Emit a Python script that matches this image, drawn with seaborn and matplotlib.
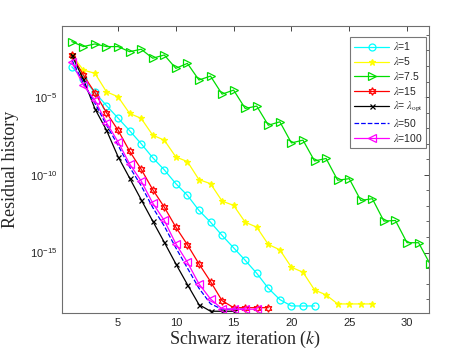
import numpy as np
import matplotlib
matplotlib.use('Agg')
import matplotlib.pyplot as plt
from matplotlib.ticker import FixedLocator, LogFormatterSciNotation, NullFormatter
import seaborn as sns

# residual history, stored as log10 exponents
lam1 = [-3.05, -3.85, -4.7, -5.55, -6.35, -7.16, -8.0, -8.9, -9.68, -10.57, -11.32,
        -12.29, -13.05, -13.9, -14.7, -15.5, -16.34, -17.3, -18.03, -18.44, -18.44, -18.44]
lam5 = [-2.3, -3.26, -3.47, -4.66, -4.98, -6.05, -6.37, -7.45, -7.77, -8.85, -9.15,
        -10.31, -10.57, -11.69, -11.97, -13.05, -13.37, -14.48, -14.83, -15.95, -16.27,
        -17.41, -17.73, -18.31, -18.31, -18.31, -18.31]
lam75 = [-1.43, -1.75, -1.58, -1.75, -1.75, -2.08, -1.92, -2.5, -2.29, -3.15, -2.83,
         -3.9, -3.65, -4.81, -4.55, -5.73, -5.58, -6.81, -6.59, -7.95, -7.77, -9.11,
         -8.95, -10.35, -10.25, -11.65, -11.54, -12.98, -12.94, -14.37, -14.37, -15.75]
lam15 = [-2.29, -3.58, -4.72, -6.0, -7.13, -8.48, -9.64, -10.95, -12.08, -13.37, -14.5,
         -15.73, -16.87, -18.1, -18.55, -18.55, -18.55, -18.55]
lam_opt = [-2.3, -3.85, -5.75, -7.13, -8.83, -10.21, -11.6, -12.98, -14.34, -15.73,
           -17.06, -18.35, -18.78, -18.78, -18.78]
lam50 = [-2.6, -4.1, -5.4, -6.8, -8.1, -9.5, -10.7, -12.1, -13.3, -14.7, -16.0, -17.3,
         -18.3, -18.65, -18.65, -18.65]
lam100 = [-2.75, -4.23, -5.2, -6.65, -7.88, -9.3, -10.4, -11.82, -12.94, -14.44, -15.63,
          -17.02, -17.99, -18.63, -18.65, -18.65, -18.65]

labels = [r'$\lambda$=1', r'$\lambda$=5', r'$\lambda$=7.5', r'$\lambda$=15',
          r'$\lambda$= $\lambda_{\rm opt}$', r'$\lambda$=50', r'$\lambda$=100']

sns.set_style('white')
plt.rcParams['font.family'] = ['Liberation Sans', 'DejaVu Sans']
plt.rcParams['mathtext.fontset'] = 'stix'

fig = plt.figure(figsize=(4.74, 3.55), dpi=100)
ax = fig.add_axes([0.131, 0.118, 0.774, 0.809])

series = [lam1, lam5, lam75, lam15, lam_opt, lam50, lam100]
styles = [
    dict(color='#00ffff', marker='o', ms=5, mfc='none'),
    dict(color='#ffff00', marker='*', ms=5, mfc='#ffff00'),
    dict(color='#00dd00', marker='>', ms=6.2, mfc='none'),
    dict(color='#ff0000', marker=(6, 1, 0), ms=5.5, mfc='none'),
    dict(color='#000000', marker='x', ms=3.6, mfc='none'),
    dict(color='#0000ff', marker=None, ls='--'),
    dict(color='#ff00ff', marker='<', ms=5.8, mfc='none'),
]
for vals, lab, st in zip(series, labels, styles):
    k = np.arange(1, len(vals) + 1)
    kw = dict(color=st['color'], lw=0.9, linestyle=st.get('ls', '-'))
    if st['marker'] is not None:
        kw.update(marker=st['marker'], markersize=st['ms'], markerfacecolor=st['mfc'],
                  markeredgecolor=st['color'], markeredgewidth=0.9)
    sns.lineplot(x=k, y=10.0 ** np.array(vals), ax=ax, label=lab, **kw)

ax.set_yscale('log')
ax.set_xlim(0.16, 31.9)
ax.set_ylim(10 ** -18.9, 10 ** -0.42)
ax.set_xticks([5, 10, 15, 20, 25, 30])
ax.yaxis.set_major_locator(FixedLocator([1e-15, 1e-10, 1e-5]))
ax.yaxis.set_major_formatter(LogFormatterSciNotation())
ax.yaxis.set_minor_locator(FixedLocator([10.0 ** e for e in range(-18, 0)]))
ax.yaxis.set_minor_formatter(NullFormatter())
ax.tick_params(which='both', direction='in', top=True, right=True,
               labelsize=8, colors='#262626', labelcolor='#262626')
ax.tick_params(which='major', length=3.5, width=0.6)
ax.tick_params(which='minor', length=2, width=0.5)
for s in ax.spines.values():
    s.set_color('#6e6e6e')
    s.set_linewidth(0.8)

ax.set_xlabel(r'Schwarz iteration ($k$)', family='Liberation Serif', fontsize=13, labelpad=1)
ax.set_ylabel('Residual history', family='Liberation Serif', fontsize=13, labelpad=8)

leg = ax.legend(loc='upper right', bbox_to_anchor=(0.998, 0.97), fontsize=7.5,
                frameon=True, fancybox=False, handlelength=3.4, handletextpad=0.3,
                labelspacing=0.28, borderpad=0.35, borderaxespad=0.2)
leg.get_frame().set_edgecolor('#555555')
leg.get_frame().set_linewidth(0.8)

fig.savefig('out.png', dpi=100)
